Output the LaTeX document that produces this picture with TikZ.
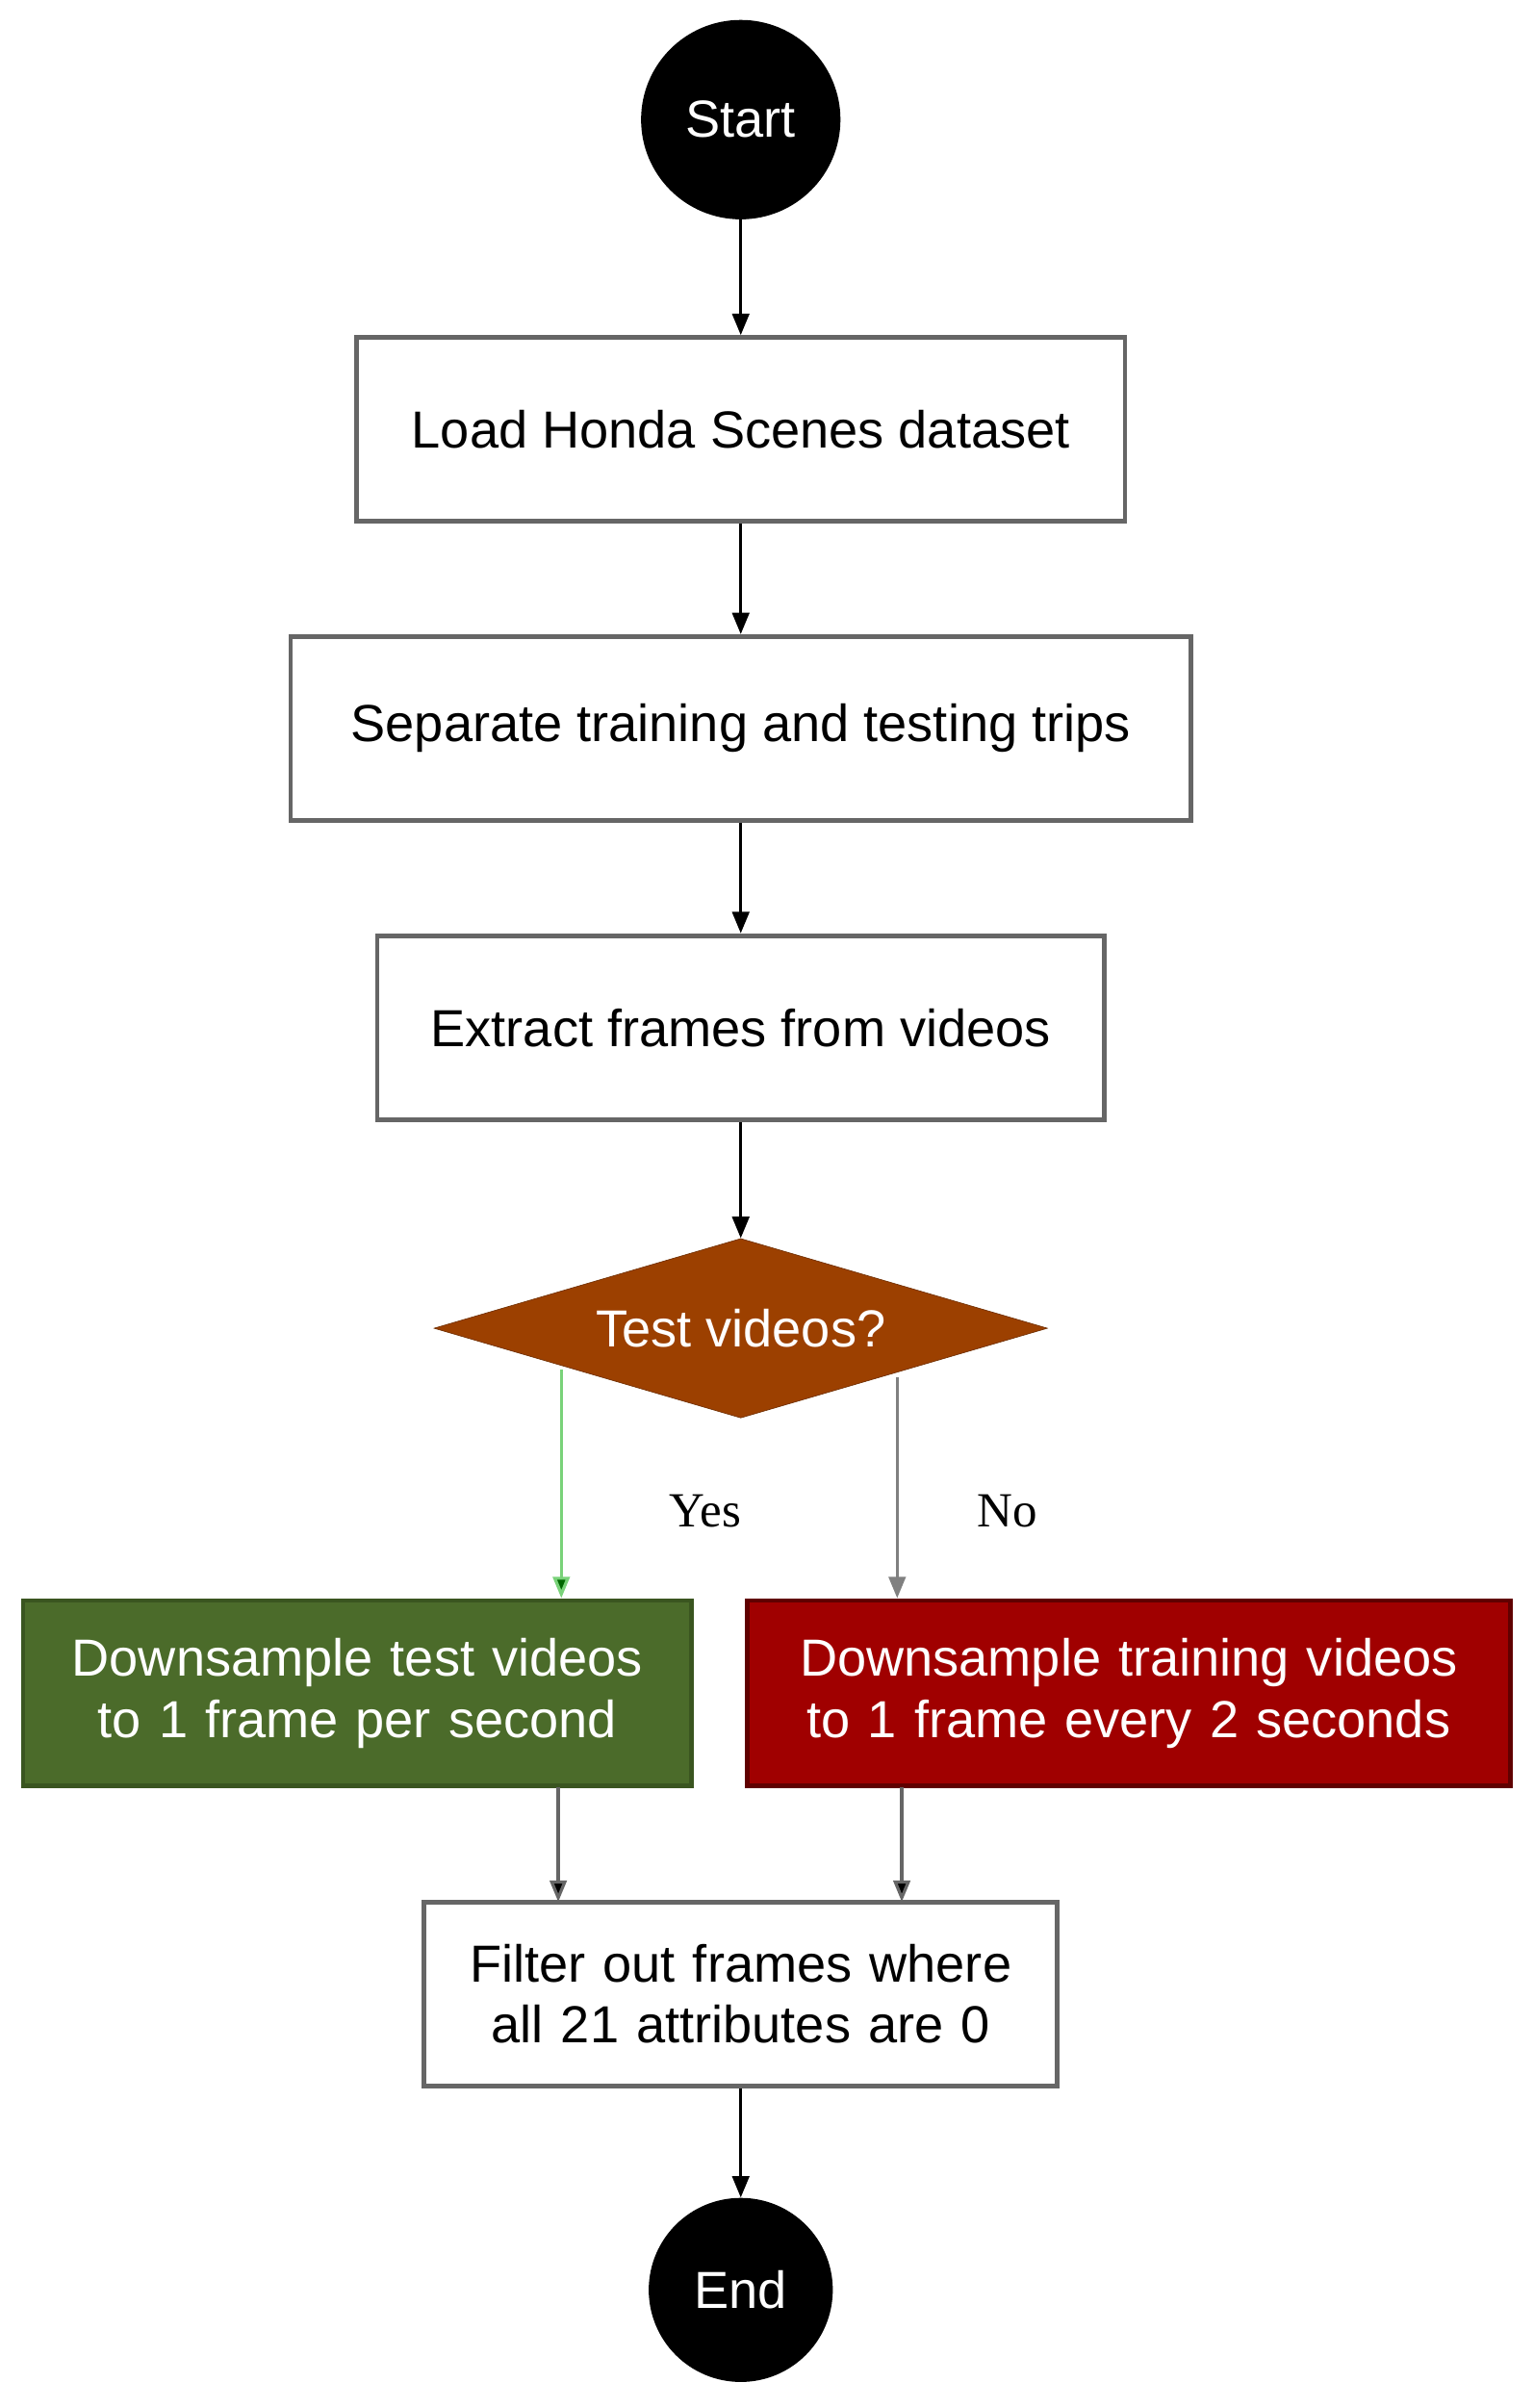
\documentclass[tikz,border=0pt]{standalone}
\usepackage{fontspec}
\setmainfont{Liberation Sans}
\newfontfamily\serifx{Liberation Serif}
\usetikzlibrary{shapes.geometric,arrows.meta}
\definecolor{gbox}{HTML}{4B6B2A}
\definecolor{gborder}{HTML}{3A5520}
\definecolor{rbox}{HTML}{A00000}
\definecolor{dia}{HTML}{9C4000}
\begin{document}
\begin{tikzpicture}[x=1pt,y=-1pt,
  every node/.style={font=\fontsize{34}{40}\selectfont},
  proc/.style={draw=gray!80!black,line width=3pt,fill=white,align=center,minimum height=120pt},
  term/.style={circle,fill=black,text=white},
  arr/.style={-{Triangle[length=14pt,width=11pt]},line width=2pt}]
\useasboundingbox (0,0) rectangle (1000,1570);
\node[term,minimum size=130pt] (start) at (483,78) {Start};
\node[proc,minimum width=501pt] (load) at (483,280) {Load Honda Scenes dataset};
\node[proc,minimum width=587pt] (sep) at (483,475) {Separate training and testing trips};
\node[proc,minimum width=474pt] (ext) at (483,670) {Extract frames from videos};
\node[diamond,fill=dia,draw=dia!70!black,text=white,minimum width=400pt,minimum height=117pt,aspect=3.4,inner sep=0pt] (dec) at (483,866) {Test videos?};
\node[proc,draw=gborder,fill=gbox,text=white,minimum width=436pt,minimum height=121pt,text width=420pt] (green) at (233,1104) {Downsample test videos\\to 1 frame per second};
\node[proc,draw=rbox!60!black,fill=rbox,text=white,minimum width=498pt,minimum height=121pt,text width=480pt] (red) at (736,1104) {Downsample training videos\\to 1 frame every 2 seconds};
\node[proc,minimum width=413pt,text width=400pt] (filt) at (483,1300) {Filter out frames where\\all 21 attributes are 0};
\node[term,minimum size=120pt] (end) at (483,1493) {End};
\draw[arr] (start) -- (load);
\draw[arr] (load) -- (sep);
\draw[arr] (sep) -- (ext);
\draw[arr] (ext) -- (dec);
\coordinate (ya) at (366,893);
\coordinate (na) at (585,898);
\draw[arr,draw=green!50!gray!70!white,-{Triangle[length=14pt,width=11pt,fill=green!40!black]}] (ya) -- (ya |- green.north);
\draw[arr,gray] (na) -- (na |- red.north);
\node[font=\serifx\fontsize{32}{38}\selectfont] at (460,985) {Yes};
\node[font=\serifx\fontsize{32}{38}\selectfont] at (657,985) {No};
\draw[arr,draw=gray!80!black,-{Triangle[length=14pt,width=11pt,fill=black]}] (364,1165) -- (364,1240);
\draw[arr,draw=gray!80!black,-{Triangle[length=14pt,width=11pt,fill=black]}] (588,1165) -- (588,1240);
\draw[arr] (filt) -- (end);
\end{tikzpicture}
\end{document}
